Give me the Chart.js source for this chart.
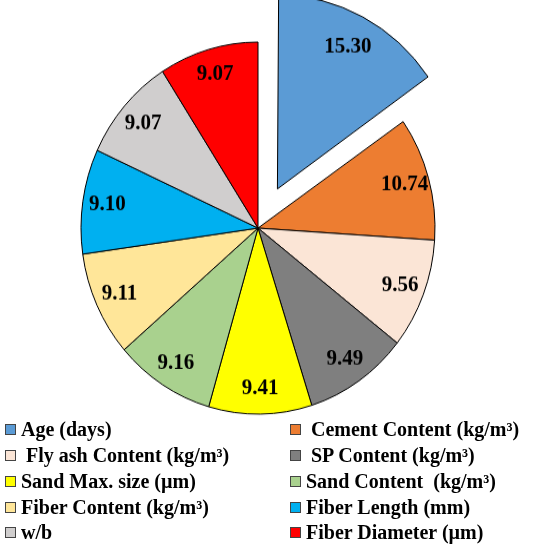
<!DOCTYPE html>
<html>
<head>
<meta charset="utf-8">
<script src="https://cdn.jsdelivr.net/npm/chart.js@4"></script>
<style>
  html, body { margin: 0; padding: 0; background: #fff; }
  body { width: 550px; height: 547px; position: relative; overflow: hidden; font-family: "Liberation Serif", "Times New Roman", serif; }
  #pieWrap { position: absolute; left: 0; top: 0; width: 550px; height: 400px; transform: scaleY(1.051); transform-origin: 0 0; }
  #legend { position: absolute; left: 5px; top: 417px; display: grid; grid-template-columns: 285px 260px; grid-auto-rows: 25.75px; }
  .item { display: flex; align-items: center; font-weight: bold; font-size: 20px; white-space: pre; color: #000; }
  .box { width: 9px; height: 9px; border: 1px solid #444; margin-right: 5px; flex: none; }
</style>
</head>
<body>
<div id="pieWrap"><canvas id="pieChart"></canvas></div>
<div id="legend"></div>
<script>
// data
const labels = [
  'Age (days)', ' Cement Content (kg/m³)', ' Fly ash Content (kg/m³)', ' SP Content (kg/m³)',
  'Sand Max. size (µm)', 'Sand Content  (kg/m³)', 'Fiber Content (kg/m³)', 'Fiber Length (mm)',
  'w/b', 'Fiber Diameter (µm)'
];
const values = [15.30, 10.74, 9.56, 9.49, 9.41, 9.16, 9.11, 9.10, 9.07, 9.07];
const colors = ['#5B9BD5', '#ED7D31', '#FBE5D6', '#7F7F7F', '#FFFF00', '#A9D18E', '#FFE699', '#00B0F0', '#D0CECE', '#FF0000'];
const explode = [42, 0, 0, 0, 0, 0, 0, 0, 0, 0]; // pixels the slice is pulled out

// values written inside the slices
const sliceLabels = {
  id: 'sliceLabels',
  afterDatasetsDraw(chart) {
    const ctx = chart.ctx;
    const meta = chart.getDatasetMeta(0);
    ctx.save();
    ctx.font = 'bold 21px "Liberation Serif", "Times New Roman", serif';
    ctx.fillStyle = '#000';
    ctx.textAlign = 'center';
    ctx.textBaseline = 'middle';
    meta.data.forEach((arc, i) => {
      const p = arc.getProps(['x', 'y', 'startAngle', 'endAngle', 'outerRadius'], true);
      const mid = (p.startAngle + p.endAngle) / 2;
      const r = p.outerRadius * 0.86 + explode[i];
      ctx.fillText(values[i].toFixed(2), p.x + Math.cos(mid) * r, p.y + Math.sin(mid) * r);
    });
    ctx.restore();
  }
};

new Chart(document.getElementById('pieChart'), {
  type: 'pie',
  data: {
    labels: labels,
    datasets: [{
      data: values,
      backgroundColor: colors,
      borderColor: '#000',
      borderWidth: 1,
      offset: explode.map(o => o * 4), // chart.js v4 moves the arc by offset/4
      clip: false
    }]
  },
  options: {
    responsive: true,
    maintainAspectRatio: false,
    animation: false,
    radius: 177,
    layout: { padding: { top: 34, bottom: 0, left: 0, right: 34 } },
    plugins: {
      legend: { display: false },
      tooltip: { enabled: false }
    }
  },
  plugins: [sliceLabels]
});

// legend, two columns like the original
const legend = document.getElementById('legend');
labels.forEach((name, i) => {
  const item = document.createElement('div');
  item.className = 'item';
  item.innerHTML = `<span class="box" style="background:${colors[i]}"></span><span></span>`;
  item.lastChild.textContent = name;
  legend.appendChild(item);
});
</script>
</body>
</html>
